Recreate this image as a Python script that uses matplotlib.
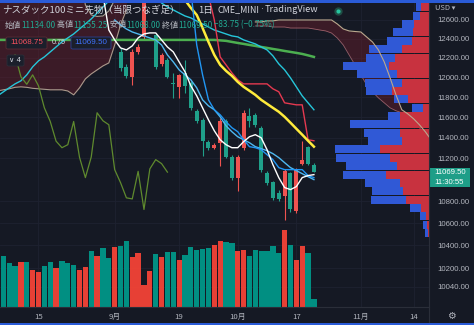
import numpy as np
import matplotlib
matplotlib.use("Agg")
import matplotlib.pyplot as plt
from matplotlib.patches import Rectangle, FancyBboxPatch
from matplotlib.transforms import blended_transform_factory
from matplotlib.ticker import FixedLocator, NullLocator, FixedFormatter

# ---------------- data ----------------
# candles (bar index 0 = Aug 15); bars before index 14 (and 19) sit above the view
c_idx = [14, 15, 16, 17, 18, 20, 21, 22, 23, 24, 25, 26, 27, 28, 29, 30, 31, 32, 33,
         34, 35, 36, 37, 38, 39, 40, 41, 42, 43, 44, 45, 46, 47]
c_open = [12262, 12107, 12005, 12262, 12420, 12441, 12138, 12179, 11946,
          11906, 12048, 11943, 11656, 11574, 11360, 11302, 11347, 11564, 11210,
          11015, 11302, 11613, 11623, 11496, 11065, 10974, 10878, 10844, 11062,
          10708, 11150, 11309, 11134]
c_close = [12096, 12018, 12262, 12314, 12900, 12107, 12231, 12005, 11929,
           12025, 11913, 11692, 11558, 11365, 11302, 11331, 11557, 11210, 11018,
           11213, 11643, 11564, 11525, 11093, 10971, 10830, 10820, 11077, 10723,
           11100, 11188, 11150, 11069.5]
c_high = [12300, 12140, 12290, 12345, 12950, 12460, 12250, 12200, 12045,
          12035, 12179, 11960, 11680, 11590, 11380, 11345, 11590, 11580, 11230,
          11230, 11673, 11690, 11640, 11510, 11080, 10990, 10900, 11100, 11075,
          11110, 11362, 11320, 11155.25]
c_low = [12066, 11995, 11923, 12240, 12400, 12080, 12120, 11990, 11792,
         11792, 11842, 11670, 11540, 11219, 11280, 11290, 11124, 11200, 11000,
         10890, 11280, 11500, 11505, 11075, 10950, 10810, 10800, 10632, 10700,
         10690, 11140, 11140, 11068]

# volume (K contracts), bar index -7 .. 47
v_idx = list(range(-7, 48))
volume = [238, 304, 264, 248, 268, 272, 224, 208, 244, 268, 236, 274, 264, 252, 224,
          240, 334, 304, 352, 296, 360, 368, 394, 298, 324, 130, 216, 318, 300, 330,
          332, 280, 312, 362, 344, 350, 354, 370, 394, 390, 384, 334, 342, 308, 342,
          334, 334, 368, 324, 460, 372, 282, 366, 324, 50]
v_up = [1, 0, 0, 0, 1, 0, 1, 1, 0, 0, 1, 0, 0, 0, 1, 1, 0, 1, 0, 0, 1, 0, 0, 1, 1,
        1, 1, 0, 1, 0, 0, 1, 0, 0, 0, 0, 0, 1, 1, 0, 0, 1, 1, 0, 0, 0, 0, 0, 0, 1, 0,
        1, 1, 0, 0]

# moving averages / indicators (price), keyed by bar index
ma5_idx = list(range(11, 48))
ma5 = [12871, 12493, 12388, 12304, 12283, 12325, 12409, 12451, 12462, 12462, 12388,
       12314, 12262, 12158, 12056, 11913, 11812, 11692, 11574, 11466, 11379, 11331,
       11302, 11302, 11360, 11408, 11428, 11398, 11283, 11140, 11018, 10925, 10906,
       10934, 11018, 11037, 11046]
ma_yel_idx = list(range(24, 48))
ma_yel = [12926, 12816, 12730, 12654, 12514, 12367, 12231, 12128, 12066, 12015, 11953,
          11903, 11863, 11822, 11772, 11732, 11692, 11653, 11603, 11545, 11486, 11428,
          11369, 11312]
ma10_idx = list(range(13, 48))
ma10 = [12600, 12547, 12504, 12472, 12451, 12430, 12409,
        12388, 12335, 12231, 12158, 12076, 12025, 11974, 11893, 11772, 11712, 11673,
        11603, 11515, 11457, 11408, 11379, 11350, 11312, 11293, 11273, 11245, 11207,
        11159, 11112, 11084, 11055, 11027, 10999]
ma25a_idx = list(range(-7, 14))
ma25a = [11811, 11852, 11893, 11933, 11964, 12025, 12107, 12169, 12210, 12262, 12314,
         12367, 12409, 12451, 12504, 12557, 12611, 12675, 12740, 12805, 12871]
ma25b_idx = list(range(20, 48))
ma25b = [12838, 12783, 12740, 12708, 12675, 12643, 12622, 12589, 12557, 12525, 12493,
         12472, 12451, 12430, 12420, 12388, 12367, 12346, 12314, 12283, 12221, 12138,
         12076, 11994, 11903, 11812, 11742, 11673]
ma75_idx = list(range(-7, 48))
ma75 = [12388] * 38 + [12383, 12378, 12367, 12356, 12346, 12335, 12325, 12314,
                       12304, 12293, 12283, 12272, 12262, 12252, 12241, 12226, 12210]
tenkan_idx = list(range(26, 48))
tenkan = [12926, 12335, 12025, 11772, 11673, 11623, 11554, 11496, 11457, 11379, 11312,
          11302, 11283, 11235, 11188, 11112, 11093, 11093, 11093, 11093, 11037, 11018]
kijun_idx = list(range(29, 48))
kijun = [12871, 12600, 12210, 12128, 12045, 11974, 11933, 11933, 11933, 11933, 11933,
         11883, 11853, 11742, 11732, 11722, 11722, 11379, 11369]

# ichimoku cloud (leading spans A / B)
cloudL_idx = list(range(-7, 16))
cloudL_a = [11861, 11873, 11883, 11898, 11903, 11898, 11888, 11883, 11878, 11873, 11873,
            11873, 11861, 11822, 11893, 11984, 12035, 12076, 12117, 12148, 12335, 12547,
            12708]
cloudL_b = [13148] * 15 + [12762, 12654, 12638, 12643, 12697, 12816, 12926, 12926]
cloudR_idx = list(range(37, 68))
cloudR_b = [12579, 12579, 12590, 12590, 12600, 12600, 12600, 12600, 12600, 12600, 12600,
            12600, 12600, 12600, 12557, 12504, 12483, 12477, 12472, 12419, 12366, 12283,
            12158, 11994, 11822, 11673, 11633, 11584, 11525, 11457, 11379]
cloudR_a = [12536, 12536, 12536, 12525, 12525, 12525, 12514, 12514, 12514, 12514, 12504,
            12493, 12483, 12461, 12408, 12335, 12231, 12128, 12025, 11923, 11852, 11792,
            11742, 11692, 11663, 11643, 11613, 11554, 11496, 11428, 11360]

# volume profile rows (price centre, up volume, down volume)
vp_price = [12826, 12735, 12645, 12555, 12467, 12378, 12291, 12203, 12117, 12031,
            11946, 11861, 11776, 11693, 11611, 11528, 11447, 11366, 11286, 11205,
            11127, 11046, 10969, 10891, 10814, 10737, 10662, 10584, 10511]
vp_up = [6, 5, 7, 12, 20, 25, 33, 29, 46, 40, 37, 26, 14, 11, 12, 50, 36, 34, 45, 54,
         51, 43, 35, 31, 35, 11, 6, 4, 3]
vp_dn = [10, 8, 9, 15, 16, 17, 27, 34, 40, 32, 27, 37, 21, 6, 29, 29, 29, 27, 49, 39,
         32, 43, 29, 26, 23, 8, 3, 2, 1]

price_ticks = [12600, 12400, 12200, 12000, 11800, 11600, 11400, 11200, 10800, 10600,
               10400, 10200, 10040]
time_tick_idx = [0, 13, 24, 34, 44, 55, 64]
time_tick_lbl = ['15', '9月', '19', '10月', '17', '11月', '14']

last_price = 11069.50

# ---------------- style ----------------
BG = '#151924'
GRID = '#1e2230'
TXT = '#b2b5be'
UPC = '#ef5350'      # rising candle (red)
DNC = '#1fa08a'      # falling candle (teal)
VUP = '#f44336'
VDN = '#009688'
CJK = ['Noto Sans CJK JP', 'DejaVu Sans']
ZT = 20

W, H = 474, 325
fig = plt.figure(figsize=(W / 100, H / 100), dpi=100, facecolor=BG)
PR, PB = 429, 307
rect = [0, 1 - PB / H, PR / W, PB / H]
XL = (-38.5 / 5.86, (PR - 38.5) / 5.86)
YL = (9869, 12816)

ax_grid = fig.add_axes(rect, zorder=0)
ax_vol = fig.add_axes(rect, zorder=1)
ax = fig.add_axes(rect, zorder=2)
for a in (ax_grid, ax_vol, ax):
    a.set_facecolor('none')
    for s in a.spines.values():
        s.set_visible(False)
    a.set_xlim(*XL)
for a in (ax_grid, ax):
    a.set_yscale('log')
    a.set_ylim(*YL)
    a.yaxis.set_major_locator(FixedLocator(price_ticks))
    a.yaxis.set_minor_locator(NullLocator())
    a.xaxis.set_major_locator(FixedLocator(time_tick_idx))

# grid
ax_grid.grid(True, color=GRID, lw=0.6)
ax_grid.tick_params(left=False, bottom=False, labelleft=False, labelbottom=False)

# volume
vol_arr = np.array(volume, dtype=float)
ax_vol.bar(v_idx, vol_arr, width=0.9,
           color=[VUP if u else VDN for u in v_up], alpha=0.95, lw=0)
ax_vol.set_ylim(0, vol_arr.max() / 0.25)
ax_vol.axis('off')

# cloud
CLOUD = '#7a1f2c'
ax.fill_between(cloudL_idx, cloudL_a, cloudL_b, color=CLOUD, alpha=0.38, lw=0, zorder=1)
ax.fill_between(cloudR_idx, cloudR_a, cloudR_b, color=CLOUD, alpha=0.38, lw=0, zorder=1)
ax.plot(cloudL_idx, cloudL_a, color='#a89a8c', lw=0.8, zorder=1.5)
ax.plot(cloudL_idx, cloudL_b, color='#a89a8c', lw=0.8, zorder=1.5)
ax.plot(cloudR_idx, cloudR_b, color='#bba88e', lw=0.8, zorder=2.5)
ax.plot(cloudR_idx, cloudR_a, color='#b0707a', lw=0.6, zorder=1.5, alpha=0.8)

# volume profile (anchored at right edge)
trp = blended_transform_factory(ax.transAxes, ax.transData)
vp_scale = 1.0 / PR
for p, u, d in zip(vp_price, vp_up, vp_dn):
    lo, hi = p / 1.0034, p * 1.0034
    ax.add_patch(Rectangle((1.0 - d * vp_scale, lo), d * vp_scale, hi - lo,
                           transform=trp, color='#c8323f', lw=0, zorder=2))
    ax.add_patch(Rectangle((1.0 - (d + u) * vp_scale, lo), u * vp_scale, hi - lo,
                           transform=trp, color='#3059d6', lw=0, zorder=2))

# candles
o = np.array(c_open); c = np.array(c_close); hgh = np.array(c_high); lw_ = np.array(c_low)
cols = [UPC if cc >= oo else DNC for oo, cc in zip(o, c)]
ax.vlines(c_idx, lw_, hgh, colors=cols, lw=0.8, zorder=3)
ax.bar(c_idx, np.maximum(np.abs(c - o), 6), bottom=np.minimum(o, c), width=0.68,
       color=cols, lw=0, zorder=3)

# indicator lines
ax.plot(ma75_idx, ma75, color='#4caf50', lw=1.8, zorder=4)
ax.plot(ma25a_idx, ma25a, color='#26c6da', lw=1.0, zorder=4)
ax.plot(ma25b_idx, ma25b, color='#26c6da', lw=1.0, zorder=4)
ax.plot(kijun_idx, kijun, color='#e53950', lw=1.0, zorder=4)
ax.plot(ma_yel_idx, ma_yel, color='#ffeb3b', lw=1.8, zorder=4)
ax.plot(ma10_idx, ma10, color='#4fb8f0', lw=1.0, zorder=4)
ax.plot(tenkan_idx, tenkan, color='#2196f3', lw=1.0, zorder=4)
ax.plot(ma5_idx, ma5, color='#ffffff', lw=1.0, zorder=4)
# lagging span: closes shifted 25 bars back
lag_pairs = [(i - 25, cl) for i, cl in zip(c_idx, c_close) if i >= 21]
ax.plot([p[0] for p in lag_pairs], [p[1] for p in lag_pairs], color='#5f8a2e', lw=0.9,
        zorder=4)

# axes labels
ax.yaxis.tick_right()
ax.yaxis.set_major_formatter(FixedFormatter([f'{t:.2f}' for t in price_ticks]))
ax.tick_params(axis='y', length=0, pad=6, labelsize=5.6, labelcolor=TXT)
for t in ax.get_yticklabels():
    t.set_fontfamily('Liberation Sans')
ax.set_xticks(time_tick_idx)
ax.set_xticklabels(time_tick_lbl, fontfamily=CJK)
ax.tick_params(axis='x', length=0, pad=4.5, labelsize=5.6, labelcolor=TXT)
ax.grid(False)

# overlay helpers (drawn above the axes)
def frect(x0, y0, w, h, color):
    fig.add_artist(Rectangle((x0 / W, 1 - (y0 + h) / H), w / W, h / H,
                             transform=fig.transFigure, color=color, lw=0, zorder=ZT))

def ftext(x, y, s, **kw):
    kw.setdefault('va', 'center')
    return fig.text(x / W, 1 - y / H, s, zorder=ZT + 1, **kw)

# last price label
frect(PR, 168, 41, 19, '#1e9e88')
ftext(434, 173, f'{last_price:.2f}', color='white', fontsize=5.6, family='Liberation Sans')
ftext(434, 182, '11:30:55', color='white', fontsize=5.6, family='Liberation Sans')

# frame lines and border strips
fig.add_artist(plt.Line2D([PR / W, PR / W], [0, 1], color='#2a2e39', lw=0.8, zorder=ZT))
fig.add_artist(plt.Line2D([0, PR / W], [1 - PB / H, 1 - PB / H], color='#2a2e39', lw=0.8,
                          zorder=ZT))
frect(0, 0, W, 2.5, '#2a5bd7')
frect(0, H - 2.5, W, 2.5, '#2a5bd7')

ftext(435, 8, 'USD ▾', color=TXT, fontsize=5.4, family=CJK)
ftext(451, 316, '⚙', color=TXT, fontsize=7, family='DejaVu Sans', ha='center')

# header
HC = '#d1d4dc'
ftext(2, 10, 'ナスダック100ミニ先物（当限つなぎ足）', color=HC, fontsize=6.8, family=CJK)
ftext(198, 10, '1日', color=HC, fontsize=6.8, family=CJK)
ftext(218, 10, 'CME_MINI', color=HC, fontsize=6.4, family=CJK)
ftext(259, 10, '·', color=HC, fontsize=6.4, family=CJK)
ftext(265, 10, 'TradingView', color=HC, fontsize=6.6, family=CJK)
fig.add_artist(plt.Line2D([338 / W], [1 - 11 / H], marker='o', ms=6, mfc='#1f4d45',
                          mec='none', zorder=ZT))
fig.add_artist(plt.Line2D([338 / W], [1 - 11 / H], marker='o', ms=3, mfc='#26c6a0',
                          mec='none', zorder=ZT + 1))

TEAL = '#22ab94'
pieces = [('始値', TXT), ('11134.00', TEAL), (' 高値', TXT), ('11155.25', TEAL),
          (' 安値', TXT), ('11068.00', TEAL), (' 終値', TXT), ('11069.50', TEAL),
          (' −83.75 (−0.75%)', TEAL)]
fig.canvas.draw()
r = fig.canvas.get_renderer()
x = 5
for s, col in pieces:
    t = ftext(x, 25, s, color=col, fontsize=5.9, family=CJK)
    x += t.get_window_extent(r).width

# order boxes
def box(x0, y0, w, h, ec):
    fig.add_artist(FancyBboxPatch((x0 / W, 1 - (y0 + h) / H), w / W, h / H,
                                  boxstyle='round,pad=0,rounding_size=0.004',
                                  transform=fig.transFigure, fc='#1b1f2b', ec=ec, lw=0.6,
                                  zorder=ZT))
box(6, 37, 41, 12, '#5a2a33')
ftext(26.5, 43, '11068.75', color='#f7525f', fontsize=5.8, family='Liberation Sans',
      ha='center')
ftext(59, 43, '0.75', color=HC, fontsize=5.2, family='Liberation Sans', ha='center')
box(71, 37, 40, 12, '#2a3f8f')
ftext(91, 43, '11069.50', color='#3f73ff', fontsize=5.8, family='Liberation Sans',
      ha='center')
box(7, 55, 17, 11, '#2a2e39')
ftext(15.5, 60.5, '∨ 4', color=HC, fontsize=5.2, family='DejaVu Sans', ha='center')

fig.savefig('out.png', dpi=100, facecolor=BG)
